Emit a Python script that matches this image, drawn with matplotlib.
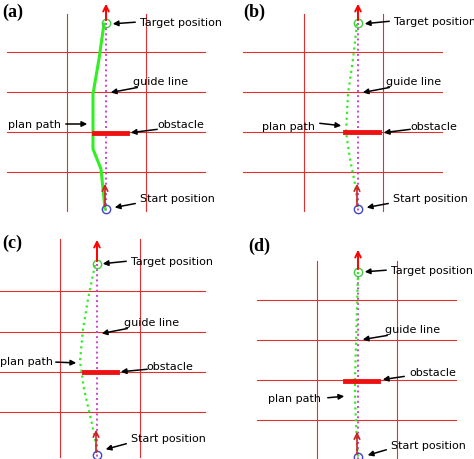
import matplotlib
matplotlib.use("Agg")
from matplotlib import pyplot as plt

# panels in image pixel coordinates
panel_names = ['(a)', '(b)', '(c)', '(d)']
panel_label_pos = [(2, 12), (243, 12), (2, 243), (248, 246)]

# grid lines per panel: vertical x's, horizontal y's, extents
vgrid_x = [[67, 146], [304, 383], [60, 140], [317, 397]]
vgrid_y = [(15, 212), (15, 212), (240, 458), (262, 460)]
hgrid_y = [[53, 93, 133, 173], [53, 93, 133, 173],
           [292, 333, 373, 413], [301, 341, 381, 421]]
hgrid_x = [(7, 205), (243, 442), (0, 205), (257, 456)]

guide_x = [106, 358, 97, 358]
guide_top = [2, 2, 238, 248]
guide_bottom = [212, 212, 460, 460]
target_y = [24, 24, 265, 273]
start_y = [210, 210, 456, 458]
obstacle = [(94, 127, 134), (345, 379, 133), (84, 117, 373), (345, 378, 382)]

path_x = [[104, 99, 93, 93, 93, 101, 103, 105],
          [357, 353, 348, 346, 350, 355, 357, 358],
          [95, 88, 83, 80, 84, 92, 96, 97],
          [358, 357, 356, 355, 355, 356, 357, 358]]
path_y = [[25, 60, 95, 133, 150, 170, 190, 210],
          [25, 60, 95, 133, 160, 185, 200, 210],
          [266, 300, 330, 362, 390, 425, 445, 456],
          [273, 310, 345, 380, 400, 425, 445, 458]]
path_style = ['-', ':', ':', ':']

# annotations: text, text pos, arrow tail, arrow head
labels = [
    [('Target position', (140, 23), (138, 23), (110, 25)),
     ('guide line', (133, 82), (140, 88), (108, 94)),
     ('plan path', (8, 125), (63, 125), (90, 125)),
     ('obstacle', (157, 125), (160, 130), (128, 134)),
     ('Start position', (140, 199), (138, 204), (112, 209))],
    [('Target position', (394, 22), (392, 22), (362, 25)),
     ('guide line', (386, 82), (392, 88), (360, 94)),
     ('plan path', (262, 127), (317, 124), (344, 127)),
     ('obstacle', (410, 127), (413, 130), (381, 134)),
     ('Start position', (393, 199), (391, 204), (364, 209))],
    [('Target position', (131, 262), (129, 262), (100, 265)),
     ('guide line', (124, 323), (130, 329), (99, 335)),
     ('plan path', (0, 362), (53, 363), (79, 364)),
     ('obstacle', (146, 367), (150, 370), (118, 373)),
     ('Start position', (131, 439), (129, 444), (103, 451))],
    [('Target position', (391, 271), (389, 271), (362, 273)),
     ('guide line', (385, 330), (390, 336), (360, 341)),
     ('plan path', (268, 399), (325, 399), (347, 397)),
     ('obstacle', (409, 373), (407, 377), (380, 381)),
     ('Start position', (391, 446), (389, 450), (365, 457))],
]

fig = plt.figure(figsize=(4.74, 4.6), dpi=100)
ax = fig.add_axes([0, 0, 1, 1])
ax.set_xlim(0, 474)
ax.set_ylim(460, 0)
ax.axis('off')

for i in range(4):
    for x in vgrid_x[i]:
        ax.plot([x, x], vgrid_y[i], c='#e03030', lw=0.8)
    for y in hgrid_y[i]:
        ax.plot(hgrid_x[i], [y, y], c='#e03030', lw=0.8)
    gx = guide_x[i]
    ax.plot([gx, gx], [target_y[i], guide_bottom[i]], c='#cc44cc', lw=1.4, ls=':')
    ax.annotate('', xy=(gx, guide_top[i]), xytext=(gx, target_y[i]),
                arrowprops=dict(arrowstyle='->', color='red', lw=1.4))
    ax.annotate('', xy=(gx - 1, start_y[i] - 28), xytext=(gx - 1, start_y[i]),
                arrowprops=dict(arrowstyle='->', color='#cc2222', lw=1.2))
    ax.plot(path_x[i], path_y[i], c='#33ee22',
            lw=2.2 if path_style[i] == '-' else 1.6, ls=path_style[i])
    ax.plot(gx, target_y[i], 'o', mfc='none', mec='#44cc44', ms=6)
    ax.plot(gx, start_y[i], 'o', mfc='none', mec='#4444cc', ms=6)
    ox0, ox1, oy = obstacle[i]
    ax.plot([ox0, ox1], [oy, oy], c='#ee1111', lw=3.5)
    for text, tp, tail, head in labels[i]:
        ax.text(tp[0], tp[1], text, fontsize=8, va='center', ha='left')
        ax.annotate('', xy=head, xytext=tail,
                    arrowprops=dict(arrowstyle='-|>', color='black', lw=1.1,
                                    mutation_scale=8))
    ax.text(panel_label_pos[i][0], panel_label_pos[i][1], panel_names[i],
            fontsize=13, fontweight='bold', family='Liberation Serif', va='center')

fig.savefig('out.png', dpi=100)
